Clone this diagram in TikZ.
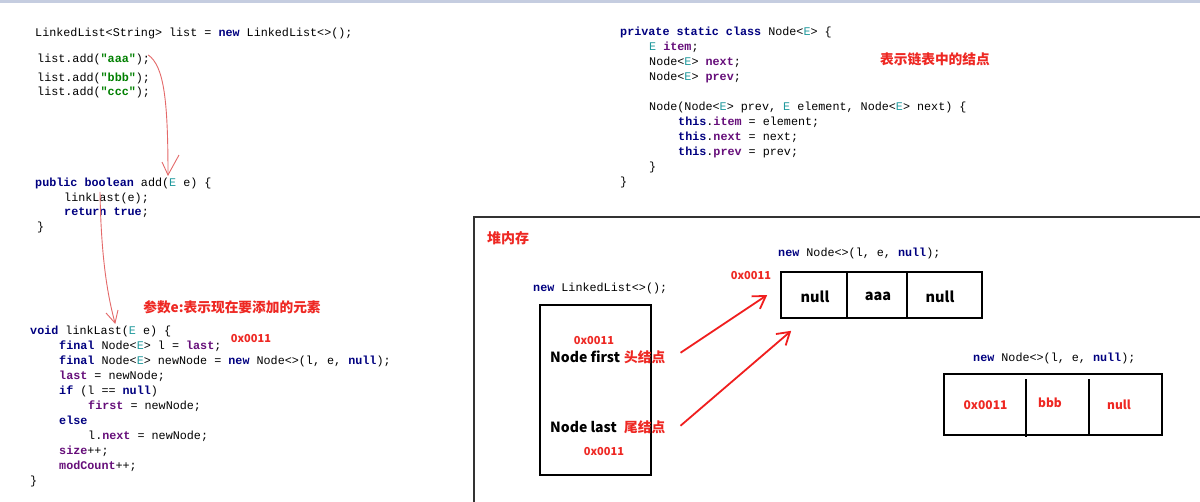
\documentclass[tikz,border=0pt]{standalone}
\usepackage{fontspec}
\usetikzlibrary{arrows.meta}
\newfontfamily\codefont{Liberation Mono}
\newfontfamily\cjk{Noto Sans CJK SC}
\definecolor{jkw}{RGB}{0,0,128}
\definecolor{jfd}{RGB}{102,14,122}
\definecolor{jtp}{RGB}{32,153,157}
\definecolor{jst}{RGB}{0,128,0}
\definecolor{lblred}{RGB}{238,40,35}
\definecolor{arrred}{RGB}{240,30,30}
\definecolor{handred}{RGB}{228,105,105}
\definecolor{topbar}{RGB}{197,205,224}
\definecolor{heapline}{RGB}{50,50,50}
\newcommand\jk[1]{\textcolor{jkw}{\bfseries #1}}
\newcommand\jf[1]{\textcolor{jfd}{\bfseries #1}}
\newcommand\jt[1]{\textcolor{jtp}{#1}}
\newcommand\js[1]{\textcolor{jst}{\bfseries #1}}
\tikzset{
  code/.style={anchor=base west, inner sep=0pt, font=\codefont\fontsize{11.75}{15}\selectfont},
  redlbl/.style={text=lblred, inner sep=0pt, font=\cjk\bfseries\fontsize{13.7}{16}\selectfont},
  addr/.style={text=lblred, inner sep=0pt, font=\cjk\bfseries\fontsize{11}{13}\selectfont},
  boxtxt/.style={inner sep=0pt, font=\cjk\bfseries\fontsize{14.5}{17}\selectfont},
  objtxt/.style={inner sep=0pt, anchor=base west, font=\cjk\bfseries\fontsize{14}{17}\selectfont},
  cell/.style={draw=black, line width=1.6pt},
  ptr/.style={draw=arrred, line width=1.8pt, -{Straight Barb[length=12pt,width=15pt]}},
  hand/.style={draw=handred, line width=0.9pt},
}
\begin{document}
\begin{tikzpicture}[x=1pt,y=-1pt]
\useasboundingbox (0,0) rectangle (1200,501);
\fill[white] (0,0) rectangle (1200,501);
\fill[topbar] (0,0) rectangle (1200,3);

% left code
\node[code] (l1) at (35,36) {LinkedList<String> list = \jk{new} LinkedList<>();};
\node[code] (l2) at (37,62) {list.add(\js{"aaa"});};
\node[code] (l3) at (37,81) {list.add(\js{"bbb"});};
\node[code] (l4) at (37,95) {list.add(\js{"ccc"});};

\node[code] (m1) at (35,186) {\jk{public} \jk{boolean} add(\jt{E} e) \{};
\node[code] (m2) at (64,201) {linkLast(e);};
\node[code] (m3) at (64,215) {\jk{return} \jk{true};};
\node[code] (m4) at (37,230) {\}};

\node[code] (k1) at (30,334) {\jk{void} linkLast(\jt{E} e) \{};
\node[code] (k2) at (59,349) {\jk{final} Node<\jt{E}> l = \jf{last};};
\node[code] (k3) at (59,364) {\jk{final} Node<\jt{E}> newNode = \jk{new} Node<>(l, e, \jk{null});};
\node[code] (k4) at (59,379) {\jf{last} = newNode;};
\node[code] (k5) at (59,394) {\jk{if} (l == \jk{null})};
\node[code] (k6) at (88,409) {\jf{first} = newNode;};
\node[code] (k7) at (59,424) {\jk{else}};
\node[code] (k8) at (88,439) {l.\jf{next} = newNode;};
\node[code] (k9) at (59,454) {\jf{size}++;};
\node[code] (k10) at (59,469) {\jf{modCount}++;};
\node[code] (k11) at (30,484) {\}};

% right code
\node[code] (r1) at (620,35) {\jk{private} \jk{static} \jk{class} Node<\jt{E}> \{};
\node[code] (r2) at (649,50) {\jt{E} \jf{item};};
\node[code] (r3) at (649,65) {Node<\jt{E}> \jf{next};};
\node[code] (r4) at (649,80) {Node<\jt{E}> \jf{prev};};
\node[code] (r5) at (649,110) {Node(Node<\jt{E}> prev, \jt{E} element, Node<\jt{E}> next) \{};
\node[code] (r6) at (678,125) {\jk{this}.\jf{item} = element;};
\node[code] (r7) at (678,140) {\jk{this}.\jf{next} = next;};
\node[code] (r8) at (678,155) {\jk{this}.\jf{prev} = prev;};
\node[code] (r9) at (649,170) {\}};
\node[code] (r10) at (620,185) {\}};

% labels
\node[redlbl] (pe) at (232,307) {参数e:表示现在要添加的元素};
\node[redlbl] (nd) at (935,59) {表示链表中的结点};
\node[addr] (a0) at (251,339) {0x0011};

% heap
\draw[heapline, line width=1.8pt] (1201,217) -- (474,217) -- (474,502);
\node[redlbl, font=\cjk\bfseries\fontsize{14}{16}\selectfont] (heap) at (508,238) {堆内存};
\node[code] (hn1) at (778,256) {\jk{new} Node<>(l, e, \jk{null});};
\node[code] (hll) at (533,291) {\jk{new} LinkedList<>();};
\node[code] (hn2) at (973,361) {\jk{new} Node<>(l, e, \jk{null});};

% node 1
\node[addr] (a1) at (751,276) {0x0011};
\node[cell, minimum width=201pt, minimum height=46pt] (n1) at (881.5,295) {};
\draw[cell] ([xshift=67pt]n1.north west) -- ([xshift=67pt]n1.south west);
\draw[cell] ([xshift=127pt]n1.north west) -- ([xshift=127pt]n1.south west);
\node[boxtxt] (n1a) at (815,297) {null};
\node[boxtxt] (n1b) at (878,296) {aaa};
\node[boxtxt] (n1c) at (940,297) {null};

% linked list object
\node[cell, minimum width=111pt, minimum height=170pt] (ll) at (595.5,390) {};
\node[addr] (a2) at (594,341) {0x0011};
\node[objtxt] (nf) at (550,362) {Node first};
\node[redlbl, anchor=base west] (nfz) at (624,362) {头结点};
\node[objtxt] (nl) at (550,432) {Node last};
\node[redlbl, anchor=base west] (nlz) at (624,432) {尾结点};
\node[addr] (a3) at (604,452) {0x0011};

% node 2
\node[cell, minimum width=218pt, minimum height=61pt] (n2) at (1053,404.5) {};
\draw[cell] (1026,379) -- (1026,437);
\draw[cell] (1089,379) -- (1089,435);
\node[addr, font=\cjk\bfseries\fontsize{12}{14}\selectfont] (n2a) at (985.5,405) {0x0011};
\node[addr, font=\cjk\bfseries\fontsize{12}{14}\selectfont] (n2b) at (1050,403) {bbb};
\node[addr, font=\cjk\bfseries\fontsize{12}{14}\selectfont] (n2c) at (1119,405) {null};

% pointer arrows
\draw[ptr] ([shift={(15,-4)}]nfz.east) -- ([xshift=-13pt]n1.west);
\draw[ptr] ([shift={(15,-1)}]nlz.east) -- ([shift={(11,12)}]n1.south west);

% hand-drawn arrows
\coordinate (t1) at (168,175);
\draw[hand] ([shift={(-2,-4)}]l2.east) .. controls (164,66) and (168,100) .. (t1);
\draw[hand] ([shift={(-6,-13)}]t1) -- (t1) -- ([shift={(11,-20)}]t1);
\coordinate (t2) at (115,323);
\draw[hand] ([shift={(36,-6)}]m2.west) .. controls (101,250) and (106,290) .. (t2);
\draw[hand] ([shift={(-9,-10)}]t2) -- (t2) -- ([shift={(3,-13)}]t2);
\end{tikzpicture}
\end{document}
